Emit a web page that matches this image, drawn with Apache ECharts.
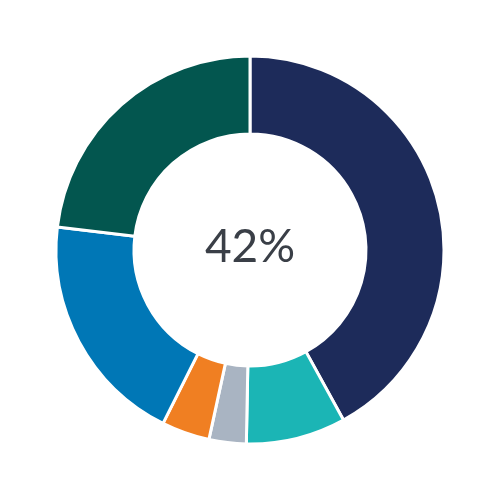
<!DOCTYPE html>
<html>
<head>
<meta charset="utf-8">
<script src="https://cdn.jsdelivr.net/npm/echarts@6/dist/echarts.min.js"></script>
<style>html,body{margin:0;padding:0;background:#fff}#c{width:500px;height:500px}</style>
</head>
<body>
<div id="c"></div>
<script>
const categories = ['A', 'B', 'C', 'D', 'E', 'F'];
const values = [42, 8.3, 3.1, 4.0, 19.5, 23.1];
const colors = ['#1d2b5a', '#1bb5b5', '#a9b4c2', '#f07f22', '#0077b6', '#03564f'];
const centerText = '42%';

const chart = echarts.init(document.getElementById('c'), null, {renderer: 'canvas'});
chart.setOption({
  animation: false,
  title: {
    text: centerText,
    left: 'center',
    top: 219,
    textStyle: {fontFamily: 'Lato', fontSize: 46, fontWeight: 'normal', color: '#3a3f47'}
  },
  series: [{
    type: 'pie',
    center: [250, 250],
    radius: [116, 194],
    startAngle: 90,
    clockwise: true,
    label: {show: false},
    labelLine: {show: false},
    itemStyle: {borderColor: '#ffffff', borderWidth: 3},
    emphasis: {disabled: true},
    data: categories.map((c, i) => ({name: c, value: values[i], itemStyle: {color: colors[i]}}))
  }]
});
</script>
</body>
</html>
